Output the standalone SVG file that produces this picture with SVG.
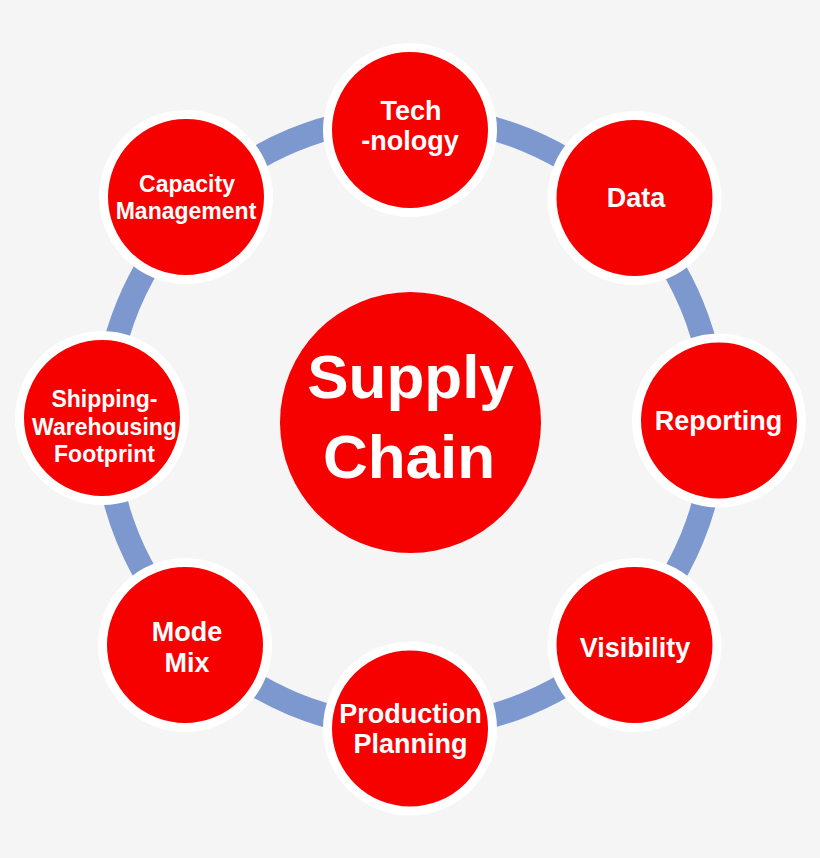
<svg xmlns="http://www.w3.org/2000/svg" width="820" height="858" viewBox="0 0 820 858">
<style>
.bg{fill:#f5f5f5}
.arc{fill:none;stroke:#7c98cf;stroke-width:24}
.node{fill:#f60000;stroke:#ffffff;stroke-width:9}
.core{fill:#f60000}
.lbl{font-family:"Liberation Sans",Arial,sans-serif;font-weight:bold;fill:#ffffff;text-anchor:middle}
.s27{font-size:27px}
.s23{font-size:23px}
.big{font-size:62px}
</style>
<rect class="bg" x="0" y="0" width="820" height="858"/>
<g id="connectors">
<path class="arc" d="M410,117 A305,305 0 0 1 625.7,206.3"/>
<path class="arc" d="M625.7,206.3 A305,305 0 0 1 715,422"/>
<path class="arc" d="M715,422 A305,305 0 0 1 625.7,637.7"/>
<path class="arc" d="M625.7,637.7 A305,305 0 0 1 410,727"/>
<path class="arc" d="M410,727 A305,305 0 0 1 194.3,637.7"/>
<path class="arc" d="M194.3,637.7 A305,305 0 0 1 105,422"/>
<path class="arc" d="M105,422 A305,305 0 0 1 194.3,206.3"/>
<path class="arc" d="M194.3,206.3 A305,305 0 0 1 410,117"/>
</g>
<g id="supply-chain">
<circle class="core" cx="410.5" cy="422.5" r="130.5"/>
<text class="lbl big" x="410.5" y="398">Supply</text>
<text class="lbl big" x="409" y="478">Chain</text>
</g>
<g id="technology">
<circle class="node" cx="410" cy="130" r="82.5"/>
<text class="lbl s27" x="411" y="120">Tech</text>
<text class="lbl s27" x="410" y="150">-nology</text>
</g>
<g id="data">
<circle class="node" cx="634.5" cy="198" r="82.5"/>
<text class="lbl s27" x="636" y="207">Data</text>
</g>
<g id="reporting">
<circle class="node" cx="719" cy="420.5" r="82.5"/>
<text class="lbl s27" x="718.5" y="430">Reporting</text>
</g>
<g id="visibility">
<circle class="node" cx="634.5" cy="645" r="82.5"/>
<text class="lbl s27" x="635" y="657">Visibility</text>
</g>
<g id="production-planning">
<circle class="node" cx="410" cy="728.5" r="82.5"/>
<text class="lbl s27" x="410.5" y="723">Production</text>
<text class="lbl s27" x="410.5" y="753">Planning</text>
</g>
<g id="mode-mix">
<circle class="node" cx="185" cy="645" r="82.5"/>
<text class="lbl s27" x="187" y="641">Mode</text>
<text class="lbl s27" x="187" y="672">Mix</text>
</g>
<g id="shipping-warehousing-footprint">
<circle class="node" cx="102" cy="418" r="82.5"/>
<text class="lbl s23" x="104.5" y="407">Shipping-</text>
<text class="lbl s23" x="104.5" y="435">Warehousing</text>
<text class="lbl s23" x="104.5" y="462">Footprint</text>
</g>
<g id="capacity-management">
<circle class="node" cx="186" cy="197" r="82.5"/>
<text class="lbl s23" x="187" y="192">Capacity</text>
<text class="lbl s23" x="186" y="219">Management</text>
</g>
</svg>
